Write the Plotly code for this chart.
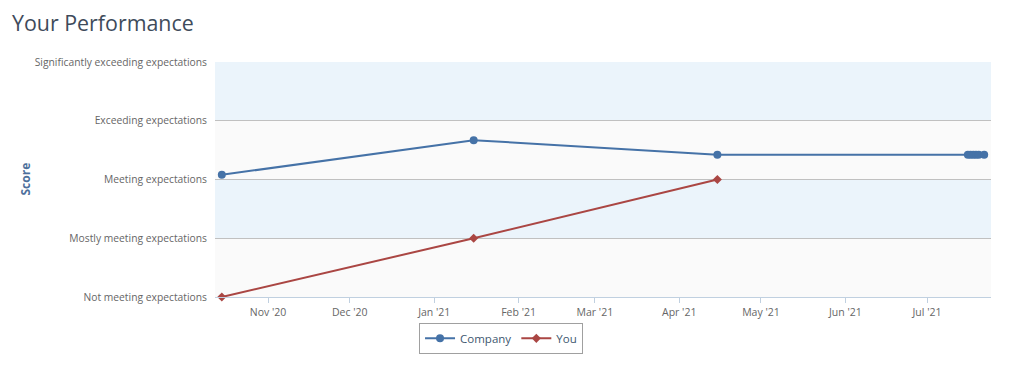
import plotly.graph_objects as go

# ---- data ----
score_labels = ["Not meeting expectations", "Mostly meeting expectations",
                "Meeting expectations", "Exceeding expectations",
                "Significantly exceeding expectations"]
score_values = [0, 1, 2, 3, 4]

company_dates = ["2020-10-15", "2021-01-15 12:00", "2021-04-15", "2021-07-16",
                 "2021-07-17", "2021-07-18", "2021-07-19", "2021-07-20", "2021-07-22"]
company_scores = [2.08, 2.67, 2.42, 2.42, 2.42, 2.42, 2.42, 2.42, 2.42]

you_dates = ["2020-10-15", "2021-01-15 12:00", "2021-04-15"]
you_scores = [0, 1, 2]

x_range = ["2020-10-12 12:00", "2021-07-24 12:00"]

COMPANY = "#4572A7"
YOU = "#AA4643"
FONT = "Open Sans, DejaVu Sans, sans-serif"

fig = go.Figure()
fig.add_trace(go.Scatter(
    x=company_dates, y=company_scores, name="Company", mode="lines+markers",
    line=dict(color=COMPANY, width=2), marker=dict(symbol="circle", size=8, color=COMPANY),
    cliponaxis=False))
fig.add_trace(go.Scatter(
    x=you_dates, y=you_scores, name="You", mode="lines+markers",
    line=dict(color=YOU, width=2), marker=dict(symbol="diamond", size=7, color=YOU),
    cliponaxis=False))

# alternating plot bands
band_colors = ["#FAFAFA", "#EBF4FB", "#FAFAFA", "#EBF4FB"]
for i, c in enumerate(band_colors):
    fig.add_shape(type="rect", xref="paper", yref="y", x0=0, x1=1,
                  y0=score_values[i], y1=score_values[i + 1],
                  fillcolor=c, line=dict(width=0), layer="below")

L, R, T, B = 207, 49, 54, 77
plot_w = 1032 - L - R

fig.update_layout(
    width=1032, height=366,
    margin=dict(l=L, r=R, t=T, b=B),
    paper_bgcolor="white", plot_bgcolor="white",
    font=dict(family=FONT, size=10.3, color="#666666"),
    title=dict(text="Your Performance", x=4 / 1032, xanchor="left",
               y=1 - 15 / 366, yanchor="middle",
               font=dict(family=FONT, size=21.4, color="#3E4B5B")),
    showlegend=True,
    legend=dict(orientation="h", x=0.3686, xanchor="center", y=-0.11, yanchor="top",
                bordercolor="#A0A0A0", borderwidth=1, bgcolor="white",
                font=dict(family=FONT, size=11.5, color="#3E576F"),
                itemwidth=30, tracegroupgap=0),
    xaxis=dict(type="date", range=x_range, dtick="M1", tick0="2020-11-01",
               tickformat="%b '%y", showgrid=False, showline=True,
               linecolor="#C0D0E0", linewidth=1, ticks="outside", ticklen=5,
               tickcolor="#C0D0E0", tickfont=dict(size=10.5, color="#666666"),
               zeroline=False, fixedrange=True),
    yaxis=dict(range=[0, 4], tickvals=score_values, ticktext=score_labels,
               showgrid=True, gridcolor="#C0C0C0", gridwidth=1,
               zeroline=False, showline=False, ticks="",
               ticklabelstandoff=7, tickfont=dict(size=10.3, color="#666666"),
               fixedrange=True),
    annotations=[dict(text="<b>Score</b>", xref="paper", yref="paper",
                      x=(17 - L) / plot_w, y=0.5, xanchor="center", yanchor="middle",
                      textangle=-90, showarrow=False,
                      font=dict(family=FONT, size=12, color="#4D6F9B"))],
)

fig.write_html("out.html")
